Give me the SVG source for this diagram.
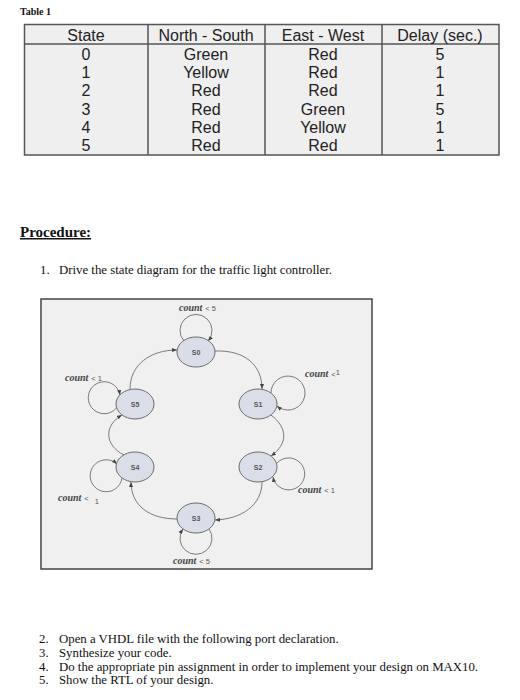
<svg xmlns="http://www.w3.org/2000/svg" width="520" height="700" viewBox="0 0 520 700">
<style>
.tbl{font-family:"Liberation Sans",Arial,sans-serif;font-size:16px;fill:#222;text-anchor:middle}
.doc{font-family:"Liberation Serif","Times New Roman",serif;font-size:12.8px;fill:#111}
.node ellipse{fill:#d9dee9;stroke:#6b6b6b;stroke-width:1}
.node text{font-family:"Liberation Sans",Arial,sans-serif;font-size:7px;font-weight:bold;fill:#555;text-anchor:middle}
.edge{fill:none;stroke:#7a7a7a;stroke-width:1;marker-end:url(#arr)}
.cnt{font-family:"Liberation Serif","Times New Roman",serif;font-size:10px;font-style:italic;font-weight:bold;fill:#444}
.op{font-family:"Liberation Sans",Arial,sans-serif;font-size:7.5px;fill:#555}
</style>
<defs>
<marker id="arr" markerUnits="userSpaceOnUse" markerWidth="6" markerHeight="6" refX="5" refY="3" orient="auto">
<path d="M0,1 L5,3 L0,5 z" fill="#444"/>
</marker>
</defs>
<rect width="520" height="700" fill="#ffffff"/>
<text x="20" y="15" font-family="Liberation Serif,serif" font-size="10" font-weight="bold" fill="#111">Table 1</text>
<g id="table">
<rect x="24.5" y="24.5" width="474.5" height="130.5" fill="#efefef" stroke="#555" stroke-width="1.5"/>
<line x1="24.5" y1="44" x2="499" y2="44" stroke="#555" stroke-width="1.5"/>
<line x1="148" y1="24.5" x2="148" y2="155" stroke="#555" stroke-width="1.5"/>
<line x1="265" y1="24.5" x2="265" y2="155" stroke="#555" stroke-width="1.5"/>
<line x1="382" y1="24.5" x2="382" y2="155" stroke="#555" stroke-width="1.5"/>
<text class="tbl" x="86" y="40.5">State</text>
<text class="tbl" x="206" y="40.5">North - South</text>
<text class="tbl" x="323" y="40.5">East - West</text>
<text class="tbl" x="440" y="40.5">Delay (sec.)</text>
<text class="tbl" x="86" y="60">0</text><text class="tbl" x="206" y="60">Green</text><text class="tbl" x="323" y="60">Red</text><text class="tbl" x="440" y="60">5</text>
<text class="tbl" x="86" y="78.2">1</text><text class="tbl" x="206" y="78.2">Yellow</text><text class="tbl" x="323" y="78.2">Red</text><text class="tbl" x="440" y="78.2">1</text>
<text class="tbl" x="86" y="96.4">2</text><text class="tbl" x="206" y="96.4">Red</text><text class="tbl" x="323" y="96.4">Red</text><text class="tbl" x="440" y="96.4">1</text>
<text class="tbl" x="86" y="114.6">3</text><text class="tbl" x="206" y="114.6">Red</text><text class="tbl" x="323" y="114.6">Green</text><text class="tbl" x="440" y="114.6">5</text>
<text class="tbl" x="86" y="132.8">4</text><text class="tbl" x="206" y="132.8">Red</text><text class="tbl" x="323" y="132.8">Yellow</text><text class="tbl" x="440" y="132.8">1</text>
<text class="tbl" x="86" y="151">5</text><text class="tbl" x="206" y="151">Red</text><text class="tbl" x="323" y="151">Red</text><text class="tbl" x="440" y="151">1</text>
</g>
<text x="20" y="237" font-family="Liberation Serif,serif" font-size="15" font-weight="bold" fill="#111" text-decoration="underline">Procedure:</text>
<text class="doc" x="40" y="274">1.</text>
<text class="doc" x="59" y="274">Drive the state diagram for the traffic light controller.</text>
<rect x="41" y="299" width="331" height="270" fill="#f0f0f0" stroke="#444" stroke-width="1.5"/>
<g id="connectors">
<path class="edge" d="M184,341 A16,16 0 1 1 208,341"/>
<path class="edge" d="M116.5,408 A16,16 0 1 1 120,395"/>
<path class="edge" d="M271,393 A17,17 0 1 1 277,406"/>
<path class="edge" d="M277,463 A16,16 0 1 1 273,477"/>
<path class="edge" d="M122,478 A16,16 0 1 1 117,464"/>
<path class="edge" d="M209,529 A16,16 0 1 1 183,529"/>
<path class="edge" d="M215,351 C245,350 262,365 262,389"/>
<path class="edge" d="M271,415 C288,428 288,444 271,456"/>
<path class="edge" d="M262,482 C262,505 242,519 215,520"/>
<path class="edge" d="M177,519 C150,519 131,506 131,482"/>
<path class="edge" d="M124,455 C104,445 104,425 122,415"/>
<path class="edge" d="M130,389 C130,365 150,350 177,350"/>
</g>
<g id="labels">
<text x="179" y="311"><tspan class="cnt">count</tspan><tspan class="op" dx="3">&lt; 5</tspan></text>
<text x="65" y="381"><tspan class="cnt">count</tspan><tspan class="op" dx="3">&lt; 1</tspan></text>
<text x="305" y="377"><tspan class="cnt">count</tspan><tspan class="op" dx="3">&lt;</tspan><tspan class="op" dy="-2">1</tspan></text>
<text x="298" y="493"><tspan class="cnt">count</tspan><tspan class="op" dx="3">&lt; 1</tspan></text>
<text x="58" y="501"><tspan class="cnt">count</tspan><tspan class="op" dx="3">&lt;</tspan><tspan class="op" dx="6" dy="3">1</tspan></text>
<text x="173" y="564"><tspan class="cnt">count</tspan><tspan class="op" dx="3">&lt; 5</tspan></text>
</g>
<g id="S0" class="node"><ellipse cx="196" cy="352" rx="19" ry="15"/><text x="196" y="354.5">S0</text></g>
<g id="S1" class="node"><ellipse cx="258" cy="404" rx="19" ry="15"/><text x="258" y="406.5">S1</text></g>
<g id="S2" class="node"><ellipse cx="258" cy="467" rx="19" ry="15"/><text x="258" y="469.5">S2</text></g>
<g id="S3" class="node"><ellipse cx="196" cy="518" rx="19" ry="15"/><text x="196" y="520.5">S3</text></g>
<g id="S4" class="node"><ellipse cx="135" cy="467" rx="19" ry="15"/><text x="135" y="469.5">S4</text></g>
<g id="S5" class="node"><ellipse cx="135" cy="404" rx="19" ry="15"/><text x="135" y="406.5">S5</text></g>
<text class="doc" x="39" y="643">2.</text><text class="doc" x="59" y="643">Open a VHDL file with the following port declaration.</text>
<text class="doc" x="39" y="657">3.</text><text class="doc" x="59" y="657">Synthesize your code.</text>
<text class="doc" x="39" y="670.5">4.</text><text class="doc" x="59" y="670.5">Do the appropriate pin assignment in order to implement your design on MAX10.</text>
<text class="doc" x="39" y="684">5.</text><text class="doc" x="59" y="684">Show the RTL of your design.</text>
</svg>
